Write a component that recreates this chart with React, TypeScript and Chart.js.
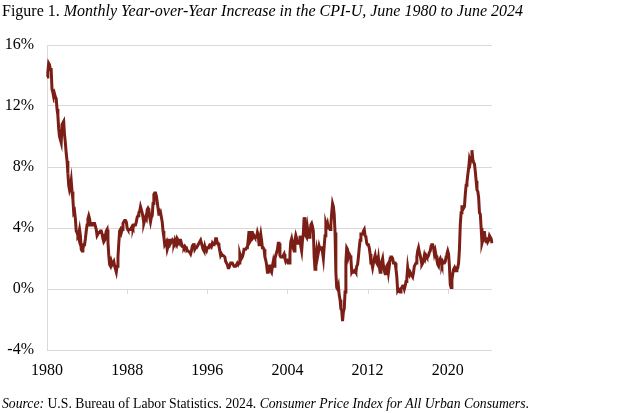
import React, { useEffect, useRef } from 'react';
import { Chart, registerables } from 'chart.js';
Chart.register(...registerables);

const startYear = 1980;
const labelEveryMonths = 96;
const yMin = -4;
const yMax = 16;
const yStep = 4;

const yoy1980s = [
  13.9, 14.2, 14.8, 14.7, 14.4, 14.4, 13.1, 12.9, 12.6, 12.8, 12.6, 12.5,
  11.8, 11.4, 10.5, 10.0, 9.8, 9.6, 10.8, 10.8, 11.0, 10.1, 9.6, 8.9,
  8.4, 7.6, 6.8, 6.5, 6.7, 7.1, 6.4, 5.9, 5.0, 5.1, 4.6, 3.8,
  3.7, 3.5, 3.6, 3.9, 3.5, 2.6, 2.5, 2.6, 2.9, 2.9, 3.3, 3.8,
  4.2, 4.6, 4.8, 4.6, 4.2, 4.2, 4.2, 4.3, 4.3, 4.3, 4.1, 3.9,
  3.5, 3.5, 3.7, 3.7, 3.8, 3.8, 3.6, 3.3, 3.1, 3.2, 3.5, 3.8,
  3.9, 3.1, 2.2, 1.6, 1.5, 1.8, 1.6, 1.6, 1.8, 1.5, 1.3, 1.1,
  1.5, 2.1, 3.0, 3.8, 3.9, 3.7, 3.9, 4.3, 4.4, 4.5, 4.5, 4.4,
  4.0, 3.9, 3.9, 3.9, 3.9, 4.0, 4.1, 4.0, 4.2, 4.2, 4.2, 4.4,
  4.7, 4.8, 5.0, 5.1, 5.4, 5.2, 5.0, 4.7, 4.3, 4.5, 4.7, 4.6,
];
const yoy1990s = [
  5.2, 5.3, 5.2, 4.7, 4.4, 4.7, 4.8, 5.6, 6.2, 6.3, 6.3, 6.1,
  5.7, 5.3, 4.9, 4.9, 5.0, 4.7, 4.4, 3.8, 3.4, 2.9, 3.0, 3.1,
  2.6, 2.8, 3.2, 3.2, 3.0, 3.1, 3.2, 3.1, 3.0, 3.2, 3.0, 2.9,
  3.3, 3.2, 3.1, 3.2, 3.2, 3.0, 2.8, 2.8, 2.7, 2.8, 2.7, 2.7,
  2.5, 2.5, 2.5, 2.4, 2.3, 2.5, 2.8, 2.9, 3.0, 2.6, 2.7, 2.7,
  2.8, 2.9, 2.9, 3.1, 3.2, 3.0, 2.8, 2.6, 2.5, 2.8, 2.6, 2.5,
  2.7, 2.7, 2.8, 2.9, 2.9, 2.8, 3.0, 2.9, 3.0, 3.0, 3.3, 3.3,
  3.0, 3.0, 2.8, 2.5, 2.2, 2.3, 2.2, 2.2, 2.2, 2.1, 1.8, 1.7,
  1.6, 1.4, 1.4, 1.4, 1.7, 1.7, 1.7, 1.6, 1.5, 1.5, 1.5, 1.6,
  1.7, 1.6, 1.7, 2.3, 2.1, 2.0, 2.1, 2.3, 2.6, 2.6, 2.6, 2.7,
];
const yoy2000s = [
  2.7, 3.2, 3.8, 3.1, 3.2, 3.7, 3.7, 3.4, 3.5, 3.4, 3.4, 3.4,
  3.7, 3.5, 2.9, 3.3, 3.6, 3.2, 2.7, 2.7, 2.6, 2.1, 1.9, 1.6,
  1.1, 1.1, 1.5, 1.6, 1.2, 1.1, 1.5, 1.8, 1.5, 2.0, 2.2, 2.4,
  2.6, 3.0, 3.0, 2.2, 2.1, 2.1, 2.1, 2.2, 2.3, 2.0, 1.8, 1.9,
  1.9, 1.7, 1.7, 2.3, 3.1, 3.3, 3.0, 2.7, 2.5, 3.2, 3.5, 3.3,
  3.0, 3.0, 3.1, 3.5, 2.8, 2.5, 3.2, 3.6, 4.7, 4.3, 3.5, 3.4,
  4.0, 3.6, 3.4, 3.5, 4.2, 4.3, 4.1, 3.8, 2.1, 1.3, 2.0, 2.5,
  2.1, 2.4, 2.8, 2.6, 2.7, 2.7, 2.4, 2.0, 2.8, 3.5, 4.3, 4.1,
  4.3, 4.0, 4.0, 3.9, 4.2, 5.0, 5.6, 5.4, 4.9, 3.7, 1.1, 0.1,
  0.0, 0.2, -0.4, -0.7, -1.3, -1.4, -2.1, -1.5, -1.3, -0.2, 1.8, 2.7,
];
const yoy2010s = [
  2.6, 2.1, 2.3, 2.2, 2.0, 1.1, 1.2, 1.1, 1.1, 1.2, 1.1, 1.5,
  1.6, 2.1, 2.7, 3.2, 3.6, 3.6, 3.6, 3.8, 3.9, 3.5, 3.4, 3.0,
  2.9, 2.9, 2.7, 2.3, 1.7, 1.7, 1.4, 1.7, 2.0, 2.2, 1.8, 1.7,
  1.6, 2.0, 1.5, 1.1, 1.4, 1.8, 2.0, 1.5, 1.2, 1.0, 1.2, 1.5,
  1.6, 1.1, 1.5, 2.0, 2.1, 2.1, 2.0, 1.7, 1.7, 1.7, 1.3, 0.8,
  -0.1, 0.0, -0.1, -0.2, 0.0, 0.1, 0.2, 0.2, 0.0, 0.2, 0.5, 0.7,
  1.4, 1.0, 0.9, 1.1, 1.0, 1.0, 0.8, 1.1, 1.5, 1.6, 1.7, 2.1,
  2.5, 2.7, 2.4, 2.2, 1.9, 1.6, 1.7, 1.9, 2.2, 2.0, 2.2, 2.1,
  2.1, 2.2, 2.4, 2.5, 2.8, 2.9, 2.9, 2.7, 2.3, 2.5, 2.2, 1.9,
  1.6, 1.5, 1.9, 2.0, 1.8, 1.6, 1.8, 1.7, 1.7, 1.8, 2.1, 2.3,
];
const yoy2020s = [
  2.5, 2.3, 1.5, 0.3, 0.1, 0.6, 1.0, 1.3, 1.4, 1.2, 1.2, 1.4,
  1.4, 1.7, 2.6, 4.2, 5.0, 5.4, 5.4, 5.3, 5.4, 6.2, 6.8, 7.0,
  7.5, 7.9, 8.5, 8.3, 8.6, 9.1, 8.5, 8.3, 8.2, 7.7, 7.1, 6.5,
  6.4, 6.0, 5.0, 4.9, 4.0, 3.0, 3.2, 3.7, 3.7, 3.2, 3.1, 3.4,
  3.1, 3.2, 3.5, 3.4, 3.3, 3.0,
];

const series = [...yoy1980s, ...yoy1990s, ...yoy2000s, ...yoy2010s, ...yoy2020s];
const categories = series.map(
  (_, i) => `${startYear + Math.floor(i / 12)}-${String((i % 12) + 1).padStart(2, '0')}`
);

const FONT = "'Liberation Serif', 'Times New Roman', serif";
const GRID = '#d9d9d9';

const zeroTicks = {
  id: 'zeroTicks',
  beforeDatasetsDraw(chart: any) {
    const xs = chart.scales.x;
    const ys = chart.scales.y;
    const ctx = chart.ctx;
    const y0 = ys.getPixelForValue(0);
    ctx.save();
    ctx.strokeStyle = GRID;
    ctx.lineWidth = 1;
    xs.ticks.forEach((t: any) => {
      if (t.value === 0) return;
      const x = Math.round(xs.getPixelForValue(t.value)) + 0.5;
      ctx.beginPath();
      ctx.moveTo(x, y0);
      ctx.lineTo(x, y0 + 5);
      ctx.stroke();
    });
    ctx.restore();
  },
};

export default function App() {
  const ref = useRef<HTMLCanvasElement>(null);
  useEffect(() => {
    document.body.style.margin = '0';
    const chart = new Chart(ref.current!, {
      type: 'line',
      data: {
        labels: categories,
        datasets: [
          {
            data: series,
            borderColor: '#7a1e16',
            borderWidth: 3,
            pointRadius: 0,
            tension: 0,
            fill: false,
          },
        ],
      },
      options: {
        animation: false,
        responsive: false,
        devicePixelRatio: 1,
        layout: { padding: { left: 0, right: 148, top: 45, bottom: 0 } },
        plugins: { legend: { display: false }, tooltip: { enabled: false } },
        scales: {
          x: {
            type: 'category',
            offset: false,
            grid: { display: false },
            border: { display: false },
            afterBuildTicks: (scale: any) => {
              scale.ticks = scale.ticks.filter((t: any) => t.value % labelEveryMonths === 0);
            },
            afterFit: (scale: any) => {
              scale.height = 63;
            },
            ticks: {
              autoSkip: false,
              maxRotation: 0,
              padding: 3,
              color: '#000',
              font: { family: FONT, size: 16 },
              callback: (v: any) => categories[v as number].slice(0, 4),
            },
          },
          y: {
            min: yMin,
            max: yMax,
            grid: { color: GRID, drawTicks: false },
            border: { display: true, color: GRID },
            afterFit: (scale: any) => {
              scale.width = 47;
            },
            ticks: {
              stepSize: yStep,
              padding: 13,
              color: '#000',
              font: { family: FONT, size: 16 },
              callback: (v: any) => `${v}%`,
            },
          },
        },
      },
      plugins: [zeroTicks],
    });
    return () => chart.destroy();
  }, []);

  return (
    <div style={{ position: 'relative', width: 640, height: 413, background: '#fff', fontFamily: FONT, color: '#000' }}>
      <canvas ref={ref} width={640} height={413} style={{ position: 'absolute', left: 0, top: 0, width: 640, height: 413 }} />
      <div style={{ position: 'absolute', left: 2, top: 2, fontSize: 16, whiteSpace: 'nowrap' }}>
        Figure 1. <i>Monthly Year-over-Year Increase in the CPI-U, June 1980 to June 2024</i>
      </div>
      <div style={{ position: 'absolute', left: 2, top: 396, fontSize: 13.7, whiteSpace: 'nowrap' }}>
        <i>Source:</i> U.S. Bureau of Labor Statistics. 2024. <i>Consumer Price Index for All Urban Consumers</i>.
      </div>
    </div>
  );
}
